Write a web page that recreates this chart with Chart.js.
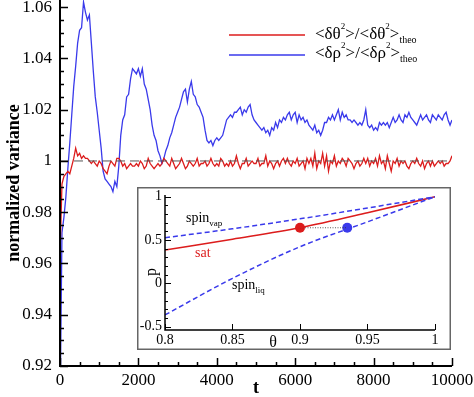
<!DOCTYPE html>
<html><head><meta charset="utf-8">
<script src="https://cdn.jsdelivr.net/npm/chart.js@4/dist/chart.umd.min.js"></script>
<style>
html,body{margin:0;padding:0;background:#fff;}
#wrap{position:relative;width:474px;height:397px;overflow:hidden;}
#main{position:absolute;left:0;top:0;width:474px;height:397px;}
#inset{position:absolute;left:137px;top:187px;width:314px;height:163px;}
</style></head><body>
<div id="wrap"><canvas id="main" width="474" height="397"></canvas><canvas id="inset" width="314" height="163"></canvas></div>
<script>
const SERIF = '"Liberation Serif", "Times New Roman", serif';
const RED = 'rgb(220,28,28)';
const BLUE = 'rgb(58,58,235)';

// ---- main chart data (sampled every tStep in t) ----
const tStep = 50;
const rhoVar = [
 0.900, 0.972, 0.978, 0.986, 0.997, 1.007, 1.018, 1.029, 1.037, 1.046, 1.051, 1.052, 1.062, 1.058, 1.055, 1.057, 1.046, 1.035, 1.025, 1.019,
 1.012, 1.005, 0.996, 0.993, 0.992, 0.991, 0.990, 0.988, 0.992, 0.990, 0.998, 1.010, 1.016, 1.018, 1.025, 1.026, 1.032, 1.036, 1.035, 1.034,
 1.036, 1.033, 1.036, 1.030, 1.028, 1.024, 1.020, 1.014, 1.010, 1.008, 1.004, 1.002, 0.999, 1.001, 1.004, 1.006, 1.009, 1.011, 1.014, 1.017,
 1.019, 1.021, 1.024, 1.027, 1.028, 1.023, 1.028, 1.031, 1.026, 1.025, 1.022, 1.021, 1.019, 1.017, 1.012, 1.008, 1.007, 1.008, 1.006, 1.008,
 1.009, 1.008, 1.009, 1.010, 1.013, 1.016, 1.017, 1.018, 1.017, 1.019, 1.019, 1.020, 1.021, 1.018, 1.020, 1.019, 1.021, 1.022, 1.018, 1.016,
 1.015, 1.014, 1.013, 1.012, 1.013, 1.011, 1.012, 1.010, 1.013, 1.012, 1.015, 1.013, 1.016, 1.015, 1.017, 1.016, 1.018, 1.019, 1.016, 1.018,
 1.019, 1.015, 1.018, 1.016, 1.017, 1.015, 1.016, 1.014, 1.013, 1.012, 1.014, 1.011, 1.012, 1.010, 1.012, 1.015, 1.015, 1.017, 1.016, 1.018,
 1.016, 1.018, 1.020, 1.016, 1.019, 1.017, 1.018, 1.016, 1.016, 1.015, 1.016, 1.015, 1.014, 1.015, 1.014, 1.016, 1.020, 1.014, 1.013, 1.014,
 1.012, 1.013, 1.012, 1.015, 1.014, 1.015, 1.014, 1.015, 1.013, 1.015, 1.017, 1.015, 1.016, 1.018, 1.016, 1.015, 1.018, 1.017, 1.019, 1.017,
 1.016, 1.015, 1.014, 1.016, 1.018, 1.016, 1.017, 1.018, 1.016, 1.015, 1.018, 1.017, 1.016, 1.018, 1.017, 1.016, 1.018, 1.019, 1.016, 1.014,
 1.016
];
const thetaVar = [
 0.963, 0.991, 0.994, 0.995, 0.996, 0.995, 0.998, 1.001, 1.005, 1.002, 1.003, 1.001, 1.002, 1.001, 1.001, 1.000, 0.999, 1.000, 0.999, 0.998,
 1.000, 0.999, 0.997, 0.996, 0.995, 0.998, 1.000, 0.999, 0.998, 1.001, 1.001, 1.000, 0.998, 0.999, 0.997, 0.998, 0.999, 0.998, 0.998, 0.999,
 0.998, 1.000, 0.999, 0.997, 0.998, 1.001, 0.999, 0.998, 0.997, 0.998, 0.999, 0.998, 0.999, 1.001, 1.000, 0.999, 0.998, 1.001, 0.999, 0.997,
 0.998, 0.999, 1.001, 0.999, 0.997, 0.998, 1.000, 0.999, 0.998, 0.999, 1.001, 0.998, 0.999, 0.999, 1.000, 0.998, 0.999, 1.001, 0.999, 0.998,
 0.999, 0.998, 1.001, 1.000, 0.998, 0.999, 0.998, 1.000, 0.998, 0.999, 1.002, 0.999, 0.997, 0.999, 0.999, 1.001, 0.998, 0.999, 1.000, 0.999,
 0.999, 1.001, 0.998, 0.999, 0.999, 1.002, 0.998, 1.000, 0.999, 0.997, 0.999, 1.000, 0.998, 1.000, 1.001, 0.999, 1.001, 0.999, 0.998, 1.000,
 0.999, 1.001, 0.998, 0.999, 1.000, 0.997, 1.001, 0.999, 1.001, 0.998, 1.003, 0.997, 1.000, 0.999, 1.003, 0.998, 1.002, 0.996, 1.000, 0.999,
 1.002, 0.998, 1.000, 0.999, 1.001, 1.000, 0.998, 1.001, 1.000, 0.999, 0.997, 0.999, 1.000, 0.998, 0.999, 1.001, 0.999, 1.001, 0.998, 1.000,
 0.999, 1.001, 0.998, 1.002, 0.999, 1.000, 0.997, 1.002, 0.999, 0.996, 1.000, 0.999, 1.001, 0.998, 1.000, 0.999, 1.000, 0.998, 0.997, 0.999,
 1.000, 0.999, 1.001, 0.999, 0.998, 1.000, 0.997, 0.999, 1.000, 0.998, 1.000, 0.998, 0.999, 1.000, 0.999, 1.000, 0.998, 0.999, 0.999, 1.000,
 1.002
];
const refT = [0, 10000];
const refVal = [1, 1];
const xTicks = [0, 2000, 4000, 6000, 8000, 10000];
const xTickLabels = ['0', '2000', '4000', '6000', '8000', '10000'];
const yTicks = [0.92, 0.94, 0.96, 0.98, 1.00, 1.02, 1.04, 1.06];
const yTickLabels = ['0.92', '0.94', '0.96', '0.98', '1', '1.02', '1.04', '1.06'];
const xMinorStep = 500;
const yMinorStep = 0.005;

// ---- inset data ----
const thetaGrid = [0.80, 0.85, 0.90, 0.95, 1.00];
const spinVap = [0.527, 0.63, 0.745, 0.87, 1.00];
const satCurve = [0.385, 0.51, 0.642, 0.815, 1.00];
const spinLiq = [-0.364, 0.058, 0.423, 0.71, 1.00];
const satPoint = {theta: 0.90, p: 0.642};
const spinPoint = {theta: 0.935, p: 0.642};
const insetXTicks = [0.8, 0.85, 0.9, 0.95, 1];
const insetXTickLabels = ['0.8', '0.85', '0.9', '0.95', '1'];
const insetYTicks = [-0.5, 0, 0.5, 1];
const insetYTickLabels = ['-0.5', '0', '0.5', '1'];
const insetYMinorStep = 0.1;

const toXY = (xs, ys) => ys.map((v, i) => ({x: xs[i], y: v}));
const sampled = vals => vals.map((v, i) => ({x: i * tStep, y: v}));

function richText(ctx, x, y, parts) {
  let cx = x;
  for (const p of parts) {
    ctx.font = (p.bold ? 'bold ' : '') + p.size + 'px ' + SERIF;
    ctx.fillText(p.t, cx, y + (p.dy || 0));
    cx += ctx.measureText(p.t).width;
  }
}

const mainDecor = {
  id: 'mainDecor',
  afterDatasetsDraw(chart) {
    const {ctx, chartArea: a, scales: {x, y}} = chart;
    ctx.save();
    ctx.strokeStyle = '#000';
    ctx.fillStyle = '#000';
    ctx.lineWidth = 2;
    ctx.beginPath();
    ctx.moveTo(a.left, a.top); ctx.lineTo(a.left, a.bottom + 1);
    ctx.moveTo(a.left - 1, a.bottom); ctx.lineTo(a.right, a.bottom);
    ctx.stroke();
    ctx.lineWidth = 1.5;
    ctx.beginPath();
    for (let v = yTicks[0]; v <= y.max + 1e-9; v += yMinorStep) {
      const py = Math.round(y.getPixelForValue(v)) + 0.5;
      const major = yTicks.some(t => Math.abs(t - v) < 1e-6);
      ctx.moveTo(a.left, py); ctx.lineTo(a.left + (major ? 8 : 4), py);
    }
    for (let v = 0; v <= x.max + 1e-9; v += xMinorStep) {
      const px = Math.round(x.getPixelForValue(v)) + 0.5;
      const major = xTicks.includes(v);
      ctx.moveTo(px, a.bottom); ctx.lineTo(px, a.bottom - (major ? 8 : 4));
    }
    ctx.stroke();
    ctx.textAlign = 'center'; ctx.textBaseline = 'middle';
    ctx.font = 'bold 18px ' + SERIF;
    ctx.fillText('t', 256, 388);
    ctx.save();
    ctx.translate(14, 183);
    ctx.rotate(-Math.PI / 2);
    ctx.font = 'bold 18px ' + SERIF;
    ctx.fillText('normalized variance', 0, 0);
    ctx.restore();
    ctx.lineWidth = 1.4;
    ctx.strokeStyle = RED;
    ctx.beginPath(); ctx.moveTo(229, 35); ctx.lineTo(305, 35); ctx.stroke();
    ctx.strokeStyle = BLUE;
    ctx.beginPath(); ctx.moveTo(229, 55); ctx.lineTo(305, 55); ctx.stroke();
    ctx.textAlign = 'left'; ctx.textBaseline = 'alphabetic';
    ctx.fillStyle = '#000';
    richText(ctx, 315, 39, [
      {t: '<δθ', size: 17}, {t: '2', size: 9, dy: -10}, {t: '>/<δθ', size: 17},
      {t: '2', size: 9, dy: -10}, {t: '>', size: 17}, {t: 'theo', size: 10, dy: 4}
    ]);
    richText(ctx, 315, 58, [
      {t: '<δρ', size: 17}, {t: '2', size: 9, dy: -10}, {t: '>/<δρ', size: 17},
      {t: '2', size: 9, dy: -10}, {t: '>', size: 17}, {t: 'theo', size: 10, dy: 4}
    ]);
    ctx.restore();
  }
};

new Chart(document.getElementById('main'), {
  type: 'line',
  data: {datasets: [
    {data: toXY(refT, refVal), borderColor: '#555', borderWidth: 1, borderDash: [9, 5], pointRadius: 0},
    {data: sampled(thetaVar), borderColor: RED, borderWidth: 1.3, pointRadius: 0},
    {data: sampled(rhoVar), borderColor: BLUE, borderWidth: 1.3, pointRadius: 0}
  ]},
  options: {
    responsive: false, animation: false, events: [],
    layout: {padding: {left: 0, right: 22, top: 0, bottom: 0}},
    plugins: {legend: {display: false}, tooltip: {enabled: false}},
    scales: {
      x: {
        type: 'linear', min: 0, max: 10000,
        grid: {display: false, drawTicks: false}, border: {display: false},
        afterBuildTicks: s => { s.ticks = xTicks.map(v => ({value: v})); },
        afterFit: s => { s.height = 31; s.paddingLeft = 0; s.paddingRight = 0; },
        ticks: {font: {family: SERIF, size: 17}, color: '#000', padding: 4, maxRotation: 0, autoSkip: false,
                callback: (v, i) => xTickLabels[i]}
      },
      y: {
        type: 'linear', min: 0.92, max: 1.0628,
        grid: {display: false, drawTicks: false}, border: {display: false},
        afterBuildTicks: s => { s.ticks = yTicks.map(v => ({value: v})); },
        afterFit: s => { s.width = 60; s.paddingTop = 0; s.paddingBottom = 0; },
        ticks: {font: {family: SERIF, size: 17}, color: '#000', padding: 8, autoSkip: false,
                callback: (v, i) => yTickLabels[i]}
      }
    }
  },
  plugins: [mainDecor]
});

const insetDecor = {
  id: 'insetDecor',
  beforeDraw(chart) {
    const {ctx, width, height} = chart;
    ctx.save(); ctx.fillStyle = '#fff'; ctx.fillRect(0, 0, width, height); ctx.restore();
  },
  afterDatasetsDraw(chart) {
    const {ctx, chartArea: a, scales: {x, y}, width, height} = chart;
    ctx.save();
    ctx.strokeStyle = '#000';
    ctx.lineWidth = 1.5;
    ctx.beginPath();
    ctx.moveTo(a.left, a.top); ctx.lineTo(a.left, a.bottom);
    ctx.lineTo(a.right, a.bottom);
    ctx.stroke();
    ctx.lineWidth = 1;
    ctx.beginPath();
    for (let v = insetYTicks[0]; v <= y.max + 1e-9; v += insetYMinorStep) {
      const py = Math.round(y.getPixelForValue(v)) + 0.5;
      const major = insetYTicks.some(t => Math.abs(t - v) < 1e-6);
      ctx.moveTo(a.left, py); ctx.lineTo(a.left + (major ? 6 : 3), py);
    }
    for (const v of insetXTicks) {
      const px = Math.round(x.getPixelForValue(v)) + 0.5;
      ctx.moveTo(px, a.bottom); ctx.lineTo(px, a.bottom - 6);
    }
    ctx.stroke();
    ctx.strokeStyle = '#666';
    ctx.lineWidth = 1.5;
    ctx.strokeRect(0.75, 0.75, width - 1.5, height - 1.5);
    ctx.fillStyle = '#000';
    ctx.textAlign = 'left'; ctx.textBaseline = 'alphabetic';
    richText(ctx, 49, 35, [{t: 'spin', size: 14}, {t: 'vap', size: 9, dy: 4}]);
    richText(ctx, 95, 102, [{t: 'spin', size: 14}, {t: 'liq', size: 9, dy: 4}]);
    ctx.fillStyle = RED;
    richText(ctx, 58, 70, [{t: 'sat', size: 14}]);
    ctx.fillStyle = '#000';
    ctx.textAlign = 'center'; ctx.textBaseline = 'middle';
    ctx.font = '16px ' + SERIF;
    ctx.fillText('θ', 136, 156);
    ctx.save();
    ctx.translate(15, 85);
    ctx.rotate(-Math.PI / 2);
    ctx.fillText('p', 0, 0);
    ctx.restore();
    ctx.restore();
  }
};

new Chart(document.getElementById('inset'), {
  type: 'line',
  data: {datasets: [
    {data: toXY(thetaGrid, spinVap), borderColor: BLUE, borderWidth: 1.5, borderDash: [5, 3], pointRadius: 0, cubicInterpolationMode: 'monotone'},
    {data: toXY(thetaGrid, spinLiq), borderColor: BLUE, borderWidth: 1.5, borderDash: [5, 3], pointRadius: 0, cubicInterpolationMode: 'monotone'},
    {data: toXY(thetaGrid, satCurve), borderColor: RED, borderWidth: 1.6, pointRadius: 0, cubicInterpolationMode: 'monotone'},
    {data: [{x: satPoint.theta, y: satPoint.p}, {x: spinPoint.theta, y: spinPoint.p}], borderColor: '#333', borderWidth: 0.8, borderDash: [1, 1.5], pointRadius: 0},
    {type: 'scatter', data: [{x: satPoint.theta, y: satPoint.p}], pointRadius: 5, backgroundColor: RED, borderWidth: 0},
    {type: 'scatter', data: [{x: spinPoint.theta, y: spinPoint.p}], pointRadius: 5, backgroundColor: BLUE, borderWidth: 0}
  ]},
  options: {
    responsive: false, animation: false, events: [],
    layout: {padding: {left: 0, right: 16, top: 8, bottom: 0}},
    plugins: {legend: {display: false}, tooltip: {enabled: false}},
    scales: {
      x: {
        type: 'linear', min: 0.8, max: 1,
        grid: {display: false, drawTicks: false}, border: {display: false},
        afterBuildTicks: s => { s.ticks = insetXTicks.map(v => ({value: v})); },
        afterFit: s => { s.height = 20; s.paddingLeft = 0; s.paddingRight = 0; },
        ticks: {font: {family: SERIF, size: 14}, color: '#000', padding: 2, maxRotation: 0, autoSkip: false,
                callback: (v, i) => insetXTickLabels[i]}
      },
      y: {
        type: 'linear', min: -0.538, max: 1.02,
        grid: {display: false, drawTicks: false}, border: {display: false},
        afterBuildTicks: s => { s.ticks = insetYTicks.map(v => ({value: v})); },
        afterFit: s => { s.width = 28; s.paddingTop = 0; s.paddingBottom = 0; },
        ticks: {font: {family: SERIF, size: 14}, color: '#000', padding: 3, autoSkip: false,
                callback: (v, i) => insetYTickLabels[i]}
      }
    }
  },
  plugins: [insetDecor]
});
</script></body></html>
